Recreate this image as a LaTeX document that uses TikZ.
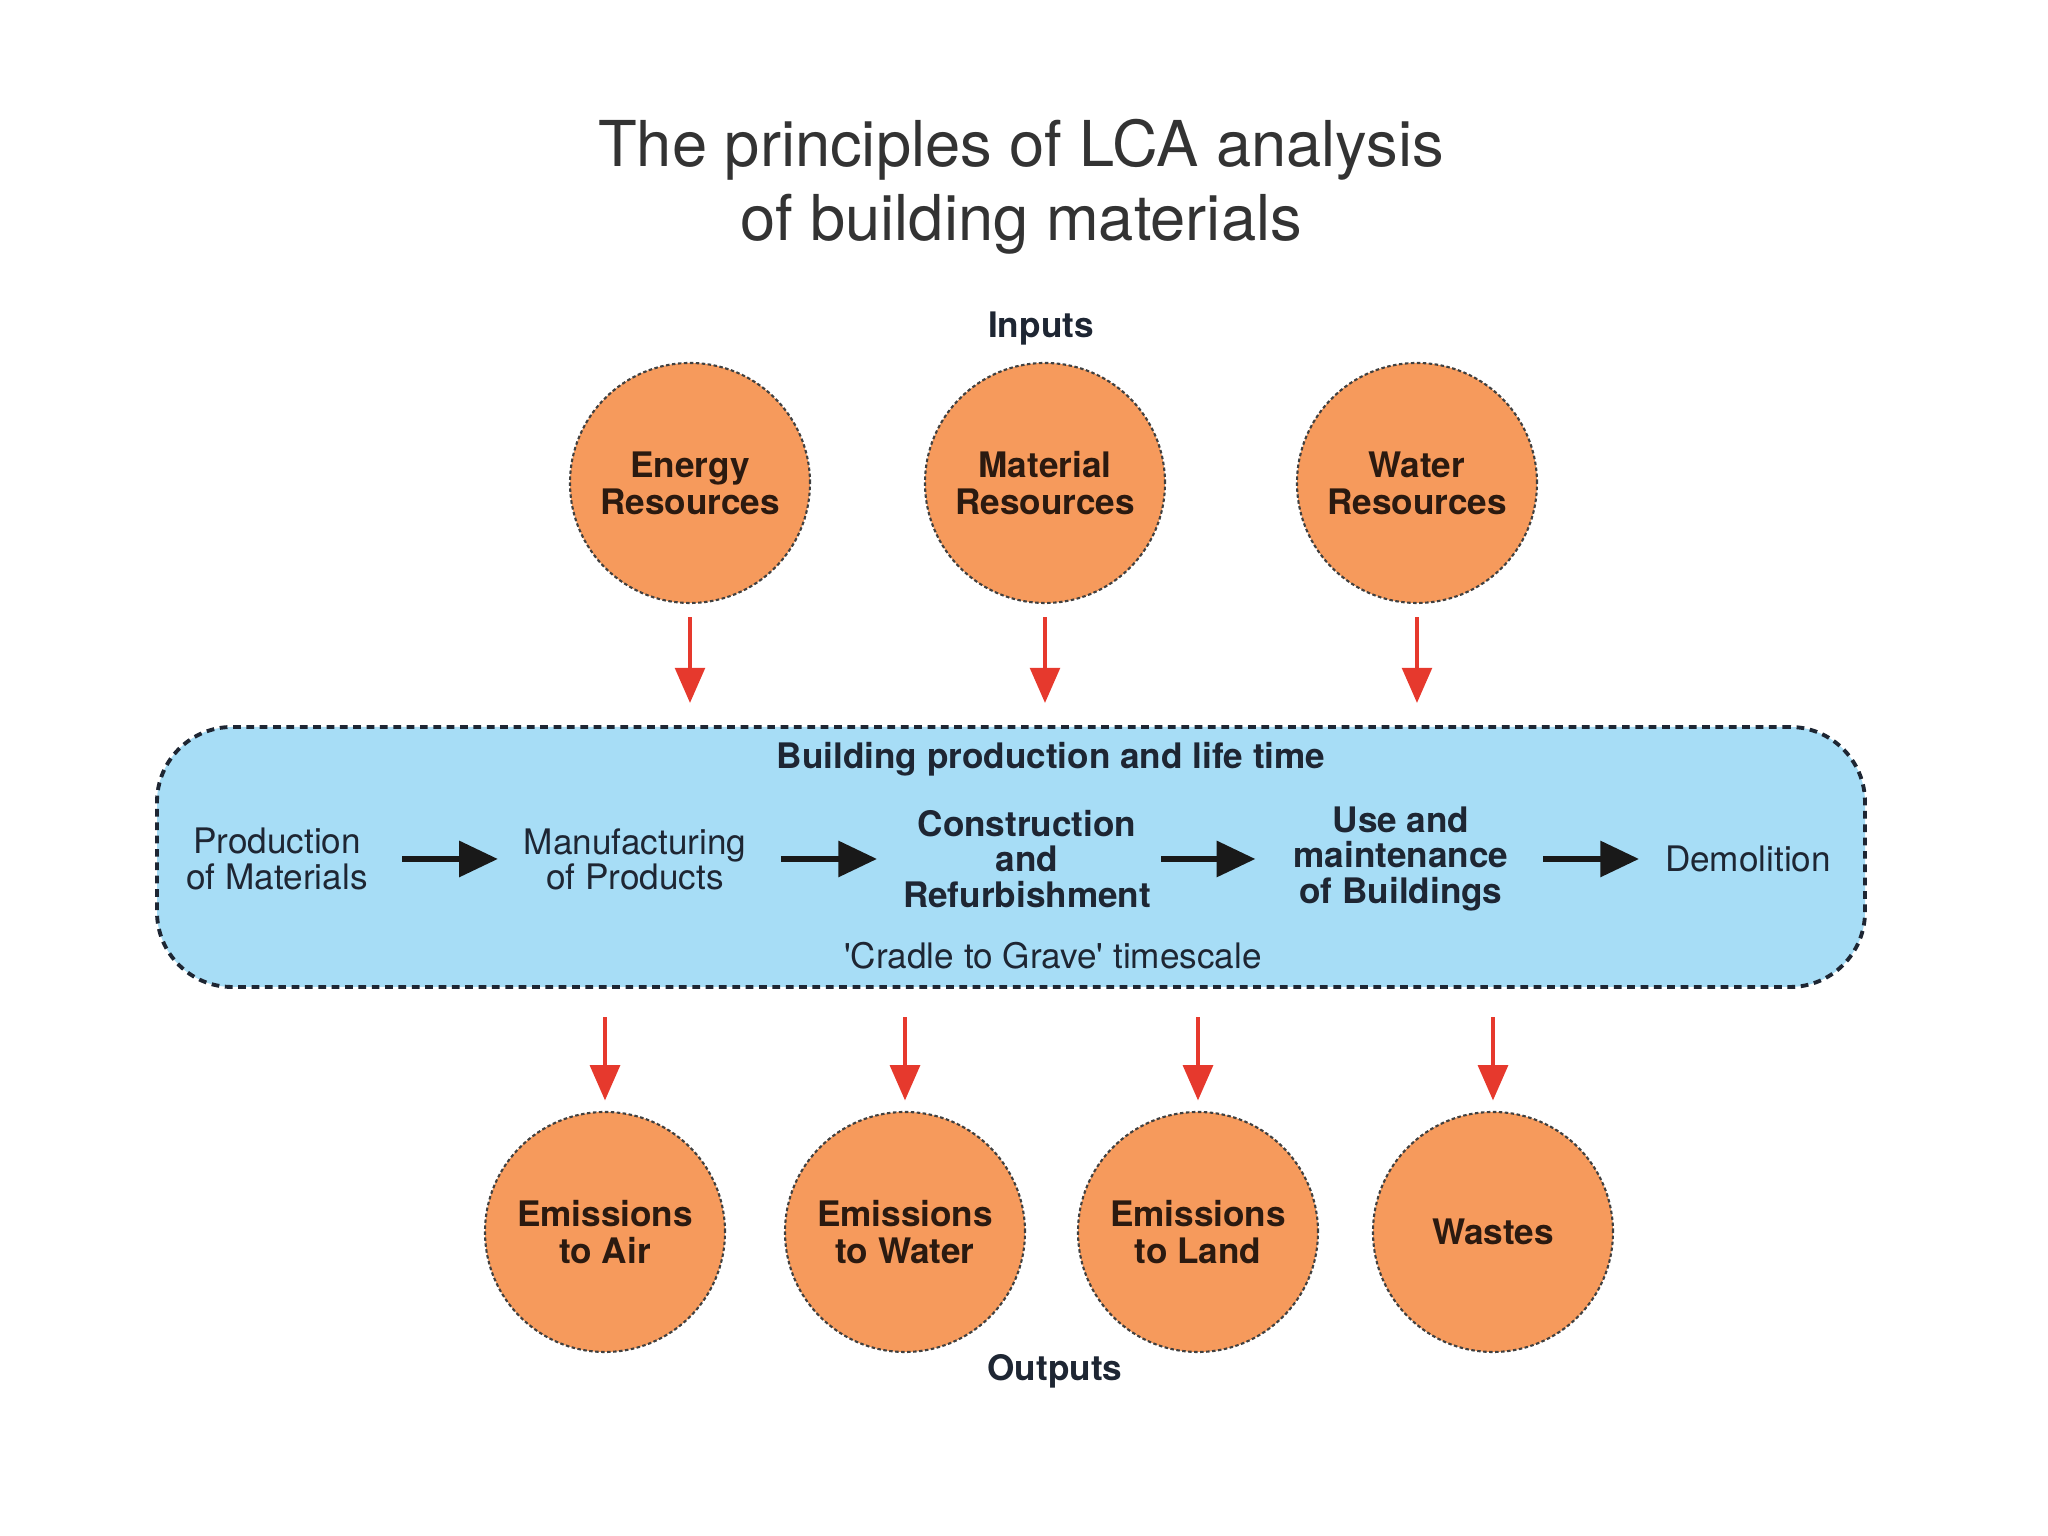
\documentclass[tikz,border=0pt]{standalone}
\usepackage{fontspec}
\setmainfont{TeX Gyre Heros}
\usetikzlibrary{arrows.meta}
\definecolor{lcaorange}{HTML}{F69A5C}
\definecolor{lcablue}{HTML}{A7DDF6}
\definecolor{lcared}{HTML}{E6392D}
\definecolor{lcaink}{HTML}{1E2633}
\definecolor{lcabrown}{HTML}{2B1A10}

\begin{document}
\begin{tikzpicture}[>=Triangle, thick,
    res/.style={circle, fill=lcaorange, draw=black!75, line width=0.6pt, dash pattern=on 1pt off 0.7pt,
        minimum size=2.4cm, inner sep=0pt, align=center, text=lcabrown,
        font=\fontsize{10}{10.5}\selectfont\bfseries},
    stage/.style={align=center, inner sep=0pt, text=lcaink, font=\fontsize{10}{10}\selectfont},
    stagebold/.style={stage, font=\fontsize{10}{10}\selectfont\bfseries},
    feed/.style={lcared, line width=0.9pt, -{Triangle[width=8.5pt,length=10pt]}},
    flow/.style={black!90, line width=1.6pt, -{Triangle[width=10pt,length=11pt]},
        shorten <=9.5pt, shorten >=7pt}]

    \useasboundingbox (0,0) rectangle (20.48,15.36);
    % 行高(单位 cm, 1cm = 100px)
    \def\ytop{10.53}
    \def\yrow{6.77}
    \def\ybot{3.04}

    % 标题
    \node[align=center, text=black!80, font=\fontsize{18}{21}\selectfont] (title) at (10.21,13.49)
        {The principles of LCA analysis\\of building materials};

    % 生命周期框 (虚线圆角)
    \node[draw=lcaink, fill=lcablue, rounded corners=0.75cm, line width=1.1pt, dash pattern=on 2.2pt off 1.6pt,
        minimum width=17.08cm, minimum height=2.6cm] (life) at (10.11,6.79) {};
    \node[stagebold] (lifetitle) at (10.51,7.77) {Building production and life time};
    \node[stage] (cradle) at (10.53,5.80) {\textquotesingle Cradle to Grave\textquotesingle\ timescale};

    % 五个阶段
    \node[stage] (prod) at (2.77,\yrow) {Production\\of Materials};
    \node[stage] (manu) at (6.35,\yrow) {Manufacturing\\of Products};
    \node[stagebold] (constr) at (10.27,\yrow) {Construction\\and\\Refurbishment};
    \node[stagebold] (use) at (14.01,\yrow) {Use and\\maintenance\\of Buildings};
    \node[stage] (demol) at (17.48,\yrow) {Demolition};

    % 阶段之间的黑色箭头
    \draw[flow] (prod.east) -- (manu.west);
    \draw[flow] (manu.east) -- (constr.west);
    \draw[flow, shorten <=2.5pt, shorten >=10.5pt] (constr.east) -- (use.west);
    \draw[flow] (use.east) -- (demol.west);

    % 输入
    \node[font=\fontsize{10}{10}\selectfont\bfseries, text=lcaink] (inputs) at (10.41,12.07) {Inputs};
    \node[res] (energy) at (6.90,\ytop) {Energy\\Resources};
    \node[res] (material) at (10.45,\ytop) {Material\\Resources};
    \node[res] (water) at (14.17,\ytop) {Water\\Resources};

    % 输入箭头 (红色, 向下)
    \foreach \n in {energy, material, water}
        \draw[feed, shorten <=3.7pt, shorten >=6.3pt] (\n.south) -- (\n.south |- life.north);

    % 输出
    \node[res] (air) at (6.05,\ybot) {Emissions\\to Air};
    \node[res] (h2o) at (9.05,\ybot) {Emissions\\to Water};
    \node[res] (land) at (11.98,\ybot) {Emissions\\to Land};
    \node[res] (wastes) at (14.93,\ybot) {Wastes};
    \node[font=\fontsize{10}{10}\selectfont\bfseries, text=lcaink] (outputs) at (10.55,1.65) {Outputs};

    % 输出箭头 (红色, 向下)
    \foreach \n in {air, h2o, land, wastes}
        \draw[feed, shorten <=8pt, shorten >=3pt] (\n.north |- life.south) -- (\n.north);

\end{tikzpicture}
\end{document}
